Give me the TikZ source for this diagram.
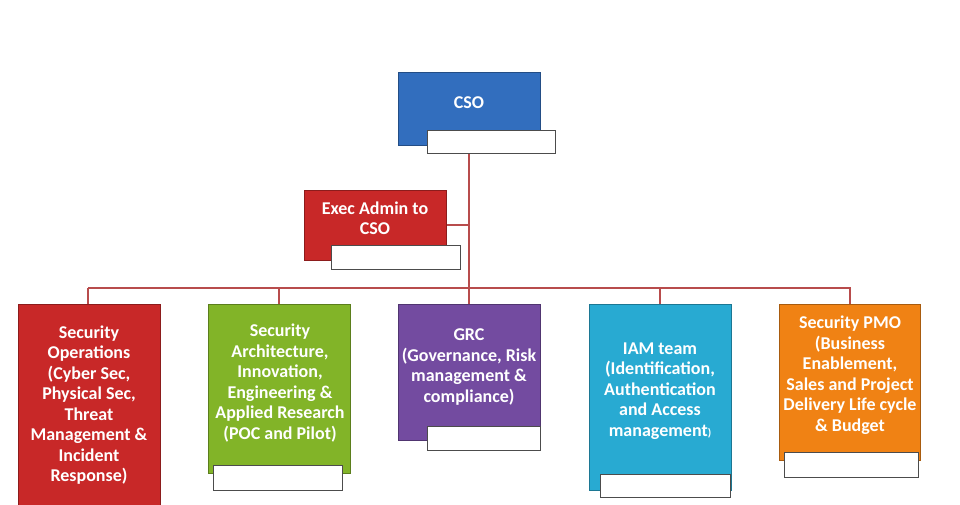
\documentclass[tikz,border=0pt]{standalone}
\usepackage{fontspec}
\setmainfont{Carlito}
\begin{document}
\begin{tikzpicture}[x=1pt,y=-1pt,
  box/.style={draw=#1!70!black, fill=#1, line width=0.8pt, text=white, font=\bfseries\fontsize{18}{20.5}\selectfont, align=center, inner sep=0pt},
  tag/.style={draw=black!70, fill=white, line width=0.8pt},
  link/.style={draw=red!60!black!70, line width=2pt}]
\useasboundingbox (0,0) rectangle (960,504);
\definecolor{cblue}{RGB}{50,110,190}
\definecolor{cred}{RGB}{200,40,40}
\definecolor{cgreen}{RGB}{130,180,40}
\definecolor{cpurple}{RGB}{115,75,160}
\definecolor{ccyan}{RGB}{40,170,210}
\definecolor{corange}{RGB}{240,130,20}
\coordinate (hl) at (88,288); \coordinate (hr) at (851,288);
\coordinate (jx) at (469,225);
\draw[link] (469,145) -- (469,288);
\draw[link] (hl) -- (hr);
\foreach \x in {88,279,469,660,850} \draw[link] (\x,288) -- (\x,304);
\draw[link] (446,225) -- (jx);
% CSO
\draw[box=cblue] (398,72) rectangle (540,145);
\node[box=cblue,draw=none,fill=none] (cso) at (469,103) {CSO};
\draw[tag] (427,130) rectangle (555,153);
% Exec
\draw[box=cred] (304,190) rectangle (446,260);
\node[box=cred,draw=none,fill=none] (ex) at (375,218) {Exec Admin to\\CSO};
\draw[tag] (331,245) rectangle (460,269);
% bottom
\draw[box=cred] (18,304) rectangle (160,510);
\node[box=cred,draw=none,fill=none] (so) at (89,405) {Security\\Operations\\(Cyber Sec,\\Physical Sec,\\Threat\\Management \&\\Incident\\Response)};
\draw[box=cgreen] (208,304) rectangle (350,473);
\draw[tag] (213,465) rectangle (342,490);
\node[box=cgreen,draw=none,fill=none] (sa) at (280,383) {Security\\Architecture,\\Innovation,\\Engineering \&\\Applied Research\\(POC and Pilot)};
\draw[box=cpurple] (398,304) rectangle (540,440);
\draw[tag] (427,426) rectangle (540,450);
\node[box=cpurple,draw=none,fill=none] (grc) at (469,367) {GRC\\(Governance, Risk\\management \&\\compliance)};
\draw[box=ccyan] (589,304) rectangle (731,490);
\draw[tag] (600,474) rectangle (730,497);
\node[box=ccyan,draw=none,fill=none] (iam) at (660,391) {IAM team\\(Identification,\\Authentication\\and Access\\management{\fontsize{11}{12}\selectfont)}};
\draw[box=corange] (779,304) rectangle (920,460);
\draw[tag] (784,452) rectangle (918,477);
\node[box=corange,draw=none,fill=none] (pmo) at (850,375) {Security PMO\\(Business\\Enablement,\\Sales and Project\\Delivery Life cycle\\\& Budget};
\end{tikzpicture}
\end{document}
